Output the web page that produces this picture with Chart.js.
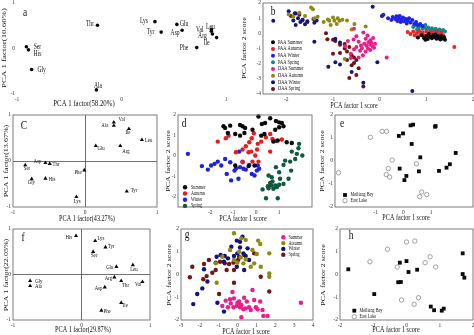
<!DOCTYPE html>
<html>
<head>
<meta charset="utf-8">
<script src="https://cdn.jsdelivr.net/npm/chart.js@4.4.0/dist/chart.umd.min.js"></script>
<style>
  html, body { margin: 0; padding: 0; background: #fff; }
  #wrap { position: relative; width: 474px; height: 335px; overflow: hidden; background: #fff; }
  #wrap canvas { position: absolute; left: 0; top: 0; }
</style>
</head>
<body>
<div id="wrap"></div>
<script>
// ---------- (a) PCA loadings, amino acids ----------
const aNames = ['Thr','Lys','Glu','Tyr','Asp','Val','Leu','Arg','Ile','Phe','Ser','His','Gly','Ala'];
const aPc1   = [-0.23, 0.32, 0.53, 0.38, 0.58, 0.86, 0.86, 0.87, 0.91, 0.72, -0.91, -0.89, -0.86, -0.24];
const aPc2   = [ 0.51, 0.59, 0.53, 0.36, 0.40, 0.38, 0.42, 0.32, 0.24, 0.02,  0.04, -0.03, -0.46, -0.91];
const aLabelOffset = [[-7.5,-1.4],[-11,-0.6],[7.3,0],[-10.7,0],[-7,2.6],[-11.6,-0.7],[-1,-2],[-10,1.7],[-10,5.4],[-12.7,0.3],[11,0],[9,4],[10,0.7],[1.6,-4.3]];

// ---------- (b) PCA scores, PAA / DAA by season ----------
const bSeries = ['PAA Summer','PAA Autumn','PAA Winter','PAA Spring','DAA Summer','DAA Autumn','DAA Winter','DAA Spring'];
const bPaaSummer = [[0.82,-0.28],[0.9,-0.12],[0.95,-0.3],[1.0,-0.18],[1.03,-0.38],[1.08,-0.22],[1.12,-0.32],[1.15,-0.12],[1.18,-0.26],[1.22,-0.36],[1.25,-0.2],[1.28,-0.3],[1.32,-0.18],[1.35,-0.34],[1.38,-0.26],[1.4,-0.42],[1.05,-0.05],[0.98,-0.42],[1.2,-0.08],[1.3,-0.4]];
const bPaaAutumn = [[0.6,0.08],[0.66,-0.05],[0.72,0.12],[0.75,-0.12],[0.8,0.02],[0.85,0.15],[0.88,-0.08],[0.92,0.05],[0.97,-0.15],[1.0,0.12],[1.05,0.0],[1.1,0.08],[1.12,-0.1],[1.18,0.02],[1.22,0.12],[1.27,-0.08],[1.32,0.05],[1.36,-0.12],[1.6,-0.9],[0.82,-0.25]];
const bPaaWinter = [[0.08,1.22],[0.18,1.0],[0.25,0.88],[0.28,1.08],[0.33,0.95],[0.36,1.12],[0.4,0.98],[0.43,1.15],[0.46,0.9],[0.5,1.05],[0.52,0.8],[0.56,0.95],[0.6,0.85],[0.63,1.0],[0.66,0.72],[0.7,0.88],[0.74,0.62],[0.78,0.75],[0.82,0.55],[0.87,0.62],[0.58,0.65],[0.45,0.75],[0.38,0.82],[0.92,0.48]];
const bPaaSpring = [[0.72,0.42],[0.78,0.52],[0.83,0.35],[0.88,0.48],[0.92,0.3],[0.96,0.42],[1.0,0.28],[1.04,0.38],[1.08,0.22],[1.12,0.34],[1.16,0.18],[1.2,0.3],[1.24,0.15],[1.28,0.26],[1.32,0.1],[1.36,0.22],[1.4,0.12],[0.98,0.55],[1.1,0.12],[0.8,0.25]];
const bDaaSummer = [[-0.55,0.3],[-0.5,-0.2],[-0.35,0.05],[-0.3,-0.35],[-0.45,-0.55],[-0.4,-0.8],[-0.33,-0.68],[-0.28,-0.82],[-0.24,-0.58],[-0.2,-0.75],[-0.15,-0.85],[-0.1,-0.68],[-0.2,-0.45],[-0.14,-0.3],[-0.25,-1.0],[-0.3,-1.2],[-0.36,-1.45],[-0.42,-1.15],[-0.55,-1.05],[-0.62,-1.35],[-0.74,-0.85],[-0.68,-0.5],[-0.5,-0.9],[-0.2,-1.1],[-0.12,-0.95],[0.15,-1.6],[-0.45,-1.6],[-0.62,-1.62],[-0.26,-0.15],[-0.56,-0.4],[-0.18,-0.62],[-0.38,-0.98]];
const bDaaAutumn = [[-1.95,1.25],[-1.85,1.1],[-1.72,1.35],[-1.6,1.15],[-1.47,1.7],[-1.43,1.58],[-1.4,1.0],[-1.33,1.1],[-1.11,0.92],[-1.08,0.83],[-0.97,0.83],[-0.9,0.99],[-0.86,0.83],[-0.8,0.9],[-1.0,1.05],[-0.92,0.62],[-0.7,0.85],[-0.54,0.61],[-0.6,0.25],[-0.3,0.45],[-0.75,-1.7],[-1.05,0.55],[-1.2,0.75]];
const bDaaWinter = [[-2.28,0.83],[-1.95,1.45],[-1.8,1.3],[-1.75,1.0],[-1.7,0.75],[-1.65,0.9],[-1.6,0.6],[-1.55,0.75],[-1.8,0.55],[-1.4,0.7],[-1.35,0.85],[-1.4,-0.55],[-0.95,-0.35],[-0.85,-0.6],[-1.1,-2.2],[-0.95,-1.9],[-0.85,-2.05],[-0.6,-2.55],[-0.35,-3.25],[-0.05,-1.9],[0.7,-3.8],[-0.15,1.75],[0.05,1.15],[-1.85,0.85]];
const bDaaSpring = [[-1.82,1.32],[-1.72,1.22],[-1.66,0.85],[-1.55,0.8],[-1.42,0.95],[-1.15,0.0],[-1.12,-0.39],[-1.0,-0.43],[-0.95,-0.5],[-0.85,-0.75],[-0.75,-0.7],[-0.75,-1.0],[-0.7,-1.2],[-0.65,-0.9],[-0.7,-1.75],[-0.6,-1.45],[-0.55,-1.6],[-0.5,-1.75],[-0.55,-1.95],[-0.6,-2.1],[-0.45,-2.3],[-0.65,-2.95],[-0.5,-2.75],[-0.35,-3.5],[-1.0,-1.35],[-0.85,-1.3],[-1.9,1.15]];

// ---------- (c) loadings ----------
const cNames = ['Val','Ala','Ile','Leu','Glu','Arg','Asp','Thr','Ser','Phe','His','Gly','Lys','Tyr'];
const cPc1   = [0.40, 0.40, 0.61, 0.79, 0.15, 0.49, -0.55, -0.49, -0.83, -0.01, -0.55, -0.74, -0.12, 0.58];
const cPc2   = [0.84, 0.77, 0.70, 0.46, 0.33, 0.33, -0.04, -0.06, -0.09, -0.20, -0.38, -0.39, -0.78, -0.66];
const cLabelOffset = [[8,-2.7],[-9,0],[-1,3.6],[6.7,0.7],[5.3,2.7],[5.7,5.4],[-8,-1.3],[6.3,0.7],[1.7,3.4],[-6.3,2],[6.7,0.7],[-0.3,3.6],[0.7,4.7],[7.3,-1]];

// ---------- (d) scores by season ----------
const seasons = ['Summer','Autumn','Winter','Spring'];
const dSummer = [[-1.42,1.45],[-1.35,1.37],[-1.13,1.48],[-0.70,1.51],[-0.59,1.45],[-0.48,1.37],[-0.16,1.28],[0.10,1.93],[0.25,1.56],[0.39,1.61],[0.61,1.84],[0.86,1.71],[1.0,1.64],[1.12,1.61],[1.19,1.45],[-1.23,1.12],[-0.91,1.07],[-0.70,0.99],[-0.51,1.12],[0.22,0.99],[0.36,1.07],[0.75,0.70],[0.94,0.75],[1.33,0.67],[1.55,0.63],[-0.91,-0.47],[-0.33,-0.50],[-0.07,-0.47],[0.83,1.28],[1.0,1.40]];
const dAutumn = [[-1.67,0.70],[-1.32,0.86],[-1.20,0.99],[-0.88,0.18],[-0.59,0.31],[-0.33,0.18],[-0.30,0.67],[-0.19,0.86],[-0.10,1.11],[0.07,0.59],[0.22,0.70],[0.42,0.91],[0.61,1.07],[0.71,0.83],[0.86,0.73],[1.12,0.80],[0.61,0.21],[-0.04,0.02],[-0.16,-0.28],[-0.59,-0.31],[-0.22,0.21],[0.04,0.31],[-0.45,0.47],[0.10,-0.28]];
const dWinter = [[-2.97,0.10],[-2.36,-0.50],[-2.10,-0.67],[-1.96,-0.47],[-1.81,-0.39],[-1.67,-0.28],[-1.35,-0.15],[-1.52,-0.47],[-1.28,-0.88],[-1.09,-1.20],[-0.94,-0.72],[-0.87,-0.60],[-0.74,0.21],[-0.59,-0.28],[-0.70,-0.55],[-0.55,-0.63],[-0.45,-0.67],[-0.30,-0.44],[-0.19,-0.88],[-0.07,-0.96],[0.03,-0.72],[0.13,-0.63],[0.07,-0.47],[-0.77,-1.12],[-1.13,-0.31]];
const dSpring = [[0.28,-1.64],[0.43,-2.07],[0.54,-1.58],[0.61,-1.32],[0.68,-1.04],[0.75,-1.61],[0.90,-1.53],[1.0,-1.41],[0.94,-2.07],[1.19,-0.44],[1.26,-0.23],[1.48,-0.28],[1.70,-0.15],[1.77,0.10],[1.87,0.59],[1.84,0.37],[2.01,0.02],[1.55,0.21],[1.52,-0.72],[1.41,-1.12],[1.19,-1.37],[0.86,-0.55],[1.0,-0.80],[0.51,-1.48],[0.65,-1.45],[0.83,-1.45],[0.54,-0.96],[0.71,-1.25],[1.04,-1.12]];

// ---------- (e) scores by lake ----------
const lakes = ['Meiliang Bay','East Lake'];
const eMeiliang = [[-0.16,1.09],[-0.01,1.20],[0.26,1.55],[0.35,1.58],[1.14,1.49],[1.16,1.52],[0.30,0.74],[0.61,0.16],[1.88,0.35],[1.67,-0.14],[1.55,-0.29],[1.28,-0.43],[0.56,-0.45],[-0.13,-0.33],[0.11,-0.65],[0.04,-0.83]];
const eEastLake = [[-2.32,-0.51],[-1.18,1.03],[-0.76,1.29],[-0.60,1.29],[-0.40,0.04],[-0.54,-0.33],[-0.61,-0.59],[-0.49,-0.70],[0.47,-0.12],[0.66,-1.35],[0.59,-1.55],[0.84,-1.46]];

// ---------- (f) loadings ----------
const fNames = ['His','Lys','Tyr','Ser','Glu','Leu','Arg','Thr','Val','Asp','Ile','Phe','Gly','Ala'];
const fPc1   = [-0.08, 0.20, 0.35, 0.17, 0.51, 0.75, 0.48, 0.58, 0.89, 0.34, 0.58, 0.29, -0.75, -0.75];
const fPc2   = [ 0.85, 0.74, 0.60, 0.50, 0.17, 0.21, -0.06, -0.14, -0.16, -0.28, -0.62, -0.79, -0.14, -0.25];
const fLabelOffset = [[-7.3,1.3],[5.7,-2],[5.7,-0.7],[1,3.7],[-6.7,0.7],[1,4],[-6,1],[4.3,4.3],[-4.3,2.3],[-6.3,1],[4,2.3],[5.7,0.7],[8.7,0.3],[8.3,0.7]];

// ---------- (g) scores by season ----------
const gSummer = [[-0.81,-1.38],[-0.63,-1.15],[-0.40,-1.09],[-0.19,-1.05],[-0.01,-1.24],[-0.22,-1.44],[-0.51,-1.44],[0.20,-1.34],[0.35,-1.02],[0.49,-1.19],[0.61,-1.44],[0.79,-0.68],[0.88,-1.12],[0.97,-1.44],[1.20,-1.19],[1.32,-1.56],[1.59,-1.82],[1.37,-1.82],[1.06,-1.53],[0.20,-1.88],[0.13,-1.44],[-0.04,-1.38],[0.31,-1.53],[0.43,-1.49],[0.70,-1.56],[3.36,-1.24],[-0.27,-0.77],[0.03,-1.27],[-0.36,-1.27],[0.08,-1.19]];
const gAutumn = [[-0.19,1.81],[0.20,1.59],[0.43,1.52],[0.79,1.08],[1.09,1.49],[1.20,1.34],[1.68,0.93],[1.68,0.05],[1.68,-0.10],[1.23,0.34],[0.88,0.49],[1.02,0.90],[0.31,0.49],[0.08,1.0],[-0.19,0.64],[-0.40,1.08],[-0.81,0.78],[-1.11,-0.36],[-0.01,0.52],[0.17,0.75],[0.70,0.34],[0.43,0.67],[-1.16,0.49]];
const gWinter = [[0.26,1.66],[0.13,1.44],[-0.04,1.49],[-0.33,1.22],[0.13,1.19],[-0.90,0.86],[-0.68,0.81],[-0.51,0.71],[-0.19,0.81],[-0.01,0.93],[0.31,0.93],[0.53,1.15],[0.61,0.64],[0.35,0.20],[-0.04,0.34],[-0.72,0.56],[-1.78,0.23],[-1.60,-0.31],[-1.87,-0.61],[-2.14,-0.86],[-2.35,-1.30],[-1.07,-1.24],[-0.72,-1.63],[-1.11,0.78],[0.43,0.81]];
const gSpring = [[-2.53,-0.12],[-2.40,0.34],[-1.78,0.46],[-1.52,0.64],[-1.34,0.08],[-1.16,0.52],[-0.93,0.56],[-0.58,0.20],[-0.45,0.46],[-0.22,0.52],[-0.68,0.49],[-0.19,0.20],[-0.19,-0.36],[0.88,0.93],[0.08,0.78],[1.23,-0.10],[1.68,-0.75],[-0.98,-0.86],[-1.64,-0.07],[-1.82,-0.21],[-1.16,0.20],[0.03,0.64],[0.35,0.86]];

// ---------- (h) scores by lake ----------
const hMeiliang = [[-1.75,0.23],[-0.97,-0.86],[-0.20,0.52],[-0.25,-0.34],[-0.17,-0.33],[0.0,0.59],[0.06,0.11],[0.32,0.21],[0.73,-1.41],[0.83,-1.57],[1.06,-1.59],[1.12,-1.50],[1.69,0.93],[1.69,0.02],[1.74,-0.14]];
const hEastLake = [[-1.10,0.56],[-0.57,1.11],[-0.28,0.33],[0.0,1.43],[0.25,1.47],[0.56,0.52],[0.71,0.78],[0.88,0.33],[-0.15,-1.12],[0.36,-1.02],[0.23,-1.31]];

// ---------- drawing ----------
const W = 474, H = 335;
const FONT = "'Liberation Serif','Times New Roman',serif";
const STRETCH = 1.3;   // text in this figure is drawn taller than wide
const wrap = document.getElementById('wrap');

const pts = arr => arr.map(([x, y]) => ({x, y}));
const zipPts = (xs, ys) => xs.map((x, i) => ({x, y: ys[i]}));

function dot(label, data, color, r) {
  return {label, data: pts(data), pointStyle: 'circle', pointRadius: r, pointBackgroundColor: color,
          pointBorderColor: color, pointBorderWidth: 0};
}
function square(label, data) {
  return {label, data: pts(data), pointStyle: 'rect', pointRadius: 2.7, pointBackgroundColor: '#0a0a0a',
          pointBorderColor: '#0a0a0a', pointBorderWidth: 0};
}
function ring(label, data) {
  return {label, data: pts(data), pointStyle: 'circle', pointRadius: 2.2, pointBackgroundColor: 'rgba(255,255,255,0)',
          pointBorderColor: '#8a8a8a', pointBorderWidth: 0.8};
}

function drawText(ctx, text, x, y, size, opts = {}) {
  ctx.save();
  ctx.translate(x, y);
  if (opts.rotate) { ctx.rotate(-Math.PI / 2); ctx.scale(STRETCH, 1); }
  else ctx.scale(1, STRETCH);
  ctx.font = size + 'px ' + FONT;
  ctx.fillStyle = opts.color || '#111';
  ctx.textAlign = opts.align || 'center';
  ctx.textBaseline = 'middle';
  ctx.fillText(text, 0, 0);
  ctx.restore();
}

function drawMarker(ctx, ds, x, y) {
  ctx.save();
  ctx.fillStyle = ds.pointBackgroundColor;
  ctx.strokeStyle = ds.pointBorderColor;
  ctx.lineWidth = ds.pointBorderWidth;
  const opts = {pointStyle: ds.pointStyle, radius: ds.pointRadius, rotation: 0, borderWidth: ds.pointBorderWidth};
  if (Chart.helpers && Chart.helpers.drawPoint) {
    Chart.helpers.drawPoint(ctx, opts, x, y);
  } else {
    ctx.beginPath(); ctx.arc(x, y, ds.pointRadius, 0, Math.PI * 2); ctx.fill();
    if (ds.pointBorderWidth > 0) ctx.stroke();
  }
  ctx.restore();
}

function decor(p) {
  return {
    id: 'panelDecor',
    afterDatasetsDraw(chart) {
      const ctx = chart.ctx, ca = chart.chartArea;
      if (p.frame) {
        ctx.save();
        ctx.strokeStyle = '#6e6e6e';
        ctx.lineWidth = 0.9;
        ctx.strokeRect(ca.left, ca.top, ca.right - ca.left, ca.bottom - ca.top);
        ctx.restore();
      }
      if (p.pointText) {
        const meta = chart.getDatasetMeta(0);
        p.pointText.names.forEach((n, i) => {
          const el = meta.data[i], off = p.pointText.offsets[i];
          drawText(ctx, n, el.x + off[0], el.y + off[1], p.pointText.size);
        });
      }
      drawText(ctx, p.letter[0], p.letter[1], p.letter[2], 9.5);
      drawText(ctx, p.xTitle[0], p.xTitle[1], p.xTitle[2], p.titleSize || 6.2);
      drawText(ctx, p.yTitle[0], p.yTitle[1], p.yTitle[2], p.titleSize || 6.2, {rotate: true});
      if (p.legend) {
        const L = p.legend;
        chart.data.datasets.forEach((ds, i) => {
          const y = L.y + i * L.step;
          drawMarker(ctx, ds, L.x, y);
          drawText(ctx, ds.label, L.tx, y, L.size, {align: 'left'});
        });
      }
    }
  };
}

function makePanel(p) {
  const cv = document.createElement('canvas');
  cv.width = W; cv.height = H;
  cv.style.width = W + 'px'; cv.style.height = H + 'px';
  wrap.appendChild(cv);
  const [x0, y0, x1, y1] = p.area;
  const YW = 10, XH = 9;
  const tidy = s => { s.paddingLeft = s.paddingRight = s.paddingTop = s.paddingBottom = 0; };
  const wholeTicks = s => { s.ticks = s.ticks.filter(t => Math.abs(t.value - Math.round(t.value)) < 1e-6); };
  const grid = () => p.cross
    ? {display: true, drawTicks: false, lineWidth: 0.8,
       color: c => (c.tick && c.tick.value === 0) ? '#4a4a4a' : 'rgba(0,0,0,0)'}
    : {display: false, drawTicks: false};
  const ticks = () => ({font: {family: FONT, size: 5.5}, color: '#333', padding: 2, autoSkip: false,
                        maxRotation: 0, minRotation: 0, stepSize: 1});
  return new Chart(cv, {
    type: 'scatter',
    data: {datasets: p.datasets.map(d => Object.assign({clip: false}, d))},
    options: {
      responsive: false, animation: false, devicePixelRatio: 1, events: [],
      layout: {autoPadding: false, padding: {left: x0 - YW, top: y0, right: W - x1, bottom: H - y1 - XH}},
      plugins: {legend: {display: false}, tooltip: {enabled: false}},
      scales: {
        x: {type: 'linear', position: 'bottom', min: p.x[0], max: p.x[1],
            afterFit: s => { s.height = XH; tidy(s); }, afterBuildTicks: wholeTicks,
            ticks: ticks(), grid: grid(), border: {display: false}},
        y: {type: 'linear', position: 'left', min: p.y[0], max: p.y[1],
            afterFit: s => { s.width = YW; tidy(s); }, afterBuildTicks: wholeTicks,
            ticks: ticks(), grid: grid(), border: {display: false}}
      }
    },
    plugins: [decor(p)]
  });
}

const BLACK = '#0a0a0a';

// (a)
makePanel({
  area: [17, 3, 226, 94], x: [-1, 1], y: [-1, 1], frame: false,
  datasets: [{label: 'loadings', data: zipPts(aPc1, aPc2), pointStyle: 'circle', pointRadius: 1.8,
              pointBackgroundColor: BLACK, pointBorderColor: BLACK, pointBorderWidth: 0}],
  pointText: {names: aNames, offsets: aLabelOffset, size: 5.6},
  letter: ['a', 25, 12.5], titleSize: 6.8,
  xTitle: ['PCA 1 factor(58.20%)', 84, 103.5], yTitle: ['PCA 1 factor(10.60%)', 4.5, 48]
});

// (b)
const bColors = ['#0a0a0a', '#ee2222', '#1f22e8', '#12898a', '#ec1c8a', '#8c8a14', '#14147a', '#6c1414'];
const bData = [bPaaSummer, bPaaAutumn, bPaaWinter, bPaaSpring, bDaaSummer, bDaaAutumn, bDaaWinter, bDaaSpring];
makePanel({
  area: [263, 3, 473, 94], x: [-2.5, 2], y: [-4, 2], frame: true,
  datasets: bSeries.map((s, i) => dot(s, bData[i], bColors[i], 2.0)),
  legend: {x: 273, tx: 278, y: 42.3, step: 6.67, size: 4.4},
  letter: ['b', 273, 11.7],
  xTitle: ['PCA factor 1 score', 354, 106], yTitle: ['PCA factor 2 score', 244, 48]
});

// (c)
makePanel({
  area: [13, 115, 157, 207], x: [-1, 1], y: [-1, 1], frame: true, cross: true,
  datasets: [{label: 'loadings', data: zipPts(cPc1, cPc2), pointStyle: 'triangle', pointRadius: 2.4,
              pointBackgroundColor: BLACK, pointBorderColor: BLACK, pointBorderWidth: 0}],
  pointText: {names: cNames, offsets: cLabelOffset, size: 4.8},
  letter: ['C', 24, 126],
  xTitle: ['PCA 1 factor(43.27%)', 87, 219], yTitle: ['PCA 1 factor(13.67%)', 6, 161]
});

// (d)
const dColors = ['#0a0a0a', '#e41e1e', '#1e22e0', '#10593c'];
const dData = [dSummer, dAutumn, dWinter, dSpring];
makePanel({
  area: [178, 115, 312, 207], x: [-3.4, 2.43], y: [-2.5, 2], frame: true,
  datasets: seasons.map((s, i) => dot(s, dData[i], dColors[i], 2.2)),
  legend: {x: 185, tx: 191, y: 187.3, step: 6.2, size: 4.2},
  letter: ['d', 184, 124],
  xTitle: ['PCA factor 1 score', 243, 219], yTitle: ['PCA factor 2 score', 168, 161]
});

// (e)
makePanel({
  area: [335, 115, 473, 207], x: [-2.45, 2.5], y: [-2, 2], frame: true,
  datasets: [square(lakes[0], eMeiliang), ring(lakes[1], eEastLake)],
  legend: {x: 345, tx: 350.5, y: 195, step: 5.7, size: 4.2},
  letter: ['e', 342, 124],
  xTitle: ['PCA factor 1 score', 406, 218], yTitle: ['PCA factor 2 score', 322, 161]
});

// (f)
makePanel({
  area: [13, 229, 150, 320], x: [-1, 1], y: [-1, 1], frame: true, cross: true,
  datasets: [{label: 'loadings', data: zipPts(fPc1, fPc2), pointStyle: 'triangle', pointRadius: 2.4,
              pointBackgroundColor: BLACK, pointBorderColor: BLACK, pointBorderWidth: 0}],
  pointText: {names: fNames, offsets: fLabelOffset, size: 4.8},
  letter: ['f', 23, 238],
  xTitle: ['PCA 1 factor(29.87%)', 83, 330], yTitle: ['PCA 1 factor(22.05%)', 6, 275]
});

// (g)
const gColors = ['#ec1c8c', '#8c8c14', '#12127c', '#701616'];
const gData = [gSummer, gAutumn, gWinter, gSpring];
makePanel({
  area: [181, 229, 313, 320], x: [-3, 4], y: [-2, 2], frame: true,
  datasets: seasons.map((s, i) => dot(s, gData[i], gColors[i], 2.2)),
  legend: {x: 283.3, tx: 288.5, y: 237.3, step: 5.8, size: 4.2},
  letter: ['g', 187, 235],
  xTitle: ['PCA factor 1 score', 246, 332], yTitle: ['PCA factor 2 score', 169, 275]
});

// (h)
makePanel({
  area: [340, 229, 473, 320], x: [-2, 2], y: [-2, 2], frame: true,
  datasets: [square(lakes[0], hMeiliang), ring(lakes[1], hEastLake)],
  legend: {x: 354.3, tx: 359.5, y: 310.7, step: 6, size: 4.2},
  letter: ['h', 351, 236],
  xTitle: ['PCA factor 1 score', 396, 330], yTitle: ['PCA factor 2 score', 323, 275]
});
</script>
</body>
</html>
